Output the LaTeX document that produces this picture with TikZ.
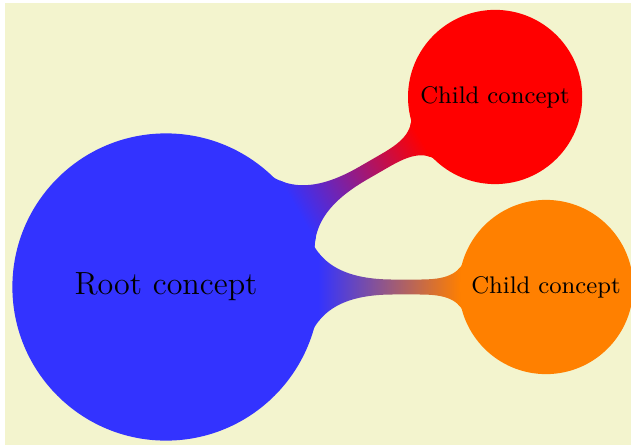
\documentclass[tikz,border=0pt]{standalone}
\usetikzlibrary{mindmap}
\definecolor{bgyellow}{RGB}{243,244,206}
\begin{document}
\begin{tikzpicture}[mindmap,concept color=blue!80]
\useasboundingbox (-2.184,-2.079) rectangle (6.118,3.776);
\fill[bgyellow] (-2.118,-2.079) rectangle (6.118,3.737);
\node[concept] (root) {Root concept}
  child[concept color=red,grow=30] {node[concept] (c1) {Child concept}}
  child[concept color=orange,grow=0] {node[concept] (c2) {Child concept}};
\end{tikzpicture}
\end{document}
